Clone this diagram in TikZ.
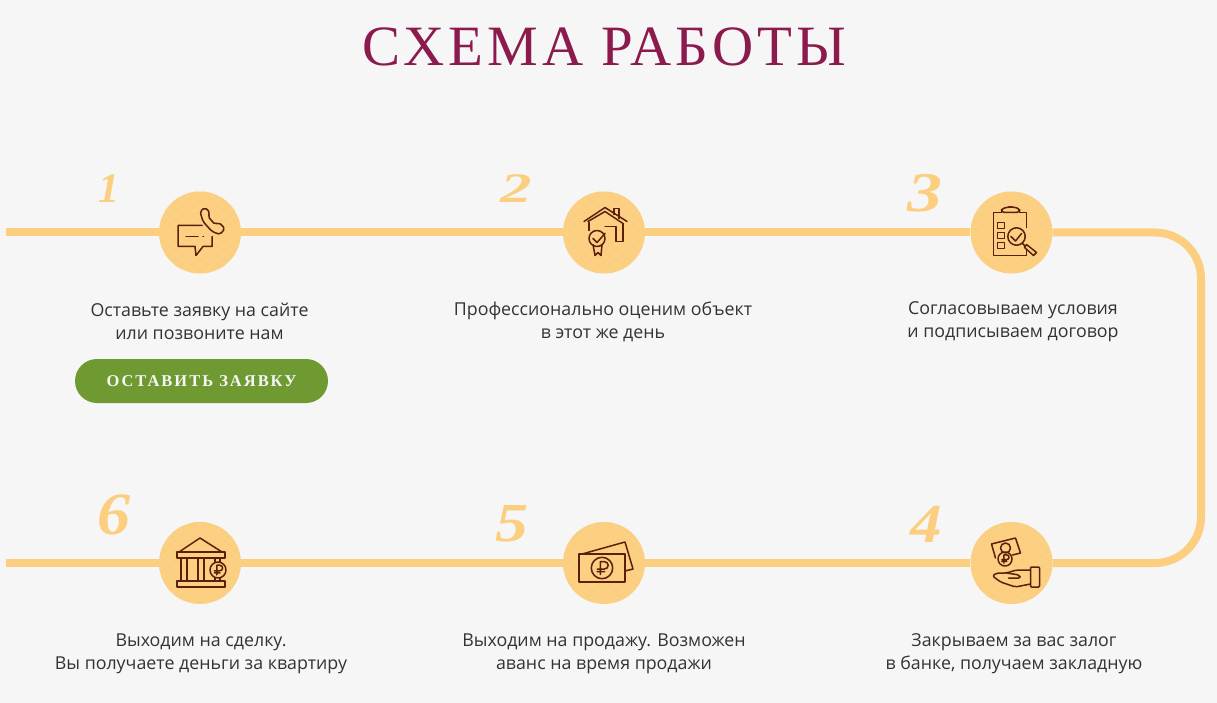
\documentclass[tikz,border=0pt]{standalone}
\usepackage{fontspec}
\setmainfont{Open Sans}
\newfontfamily\titlefont[LetterSpace=7.2]{Liberation Serif}
\newfontfamily\buttonfont[LetterSpace=12]{Liberation Serif}
\newfontfamily\numeralfont[BoldItalicFont=Liberation Serif Bold Italic]{Liberation Serif}
\usetikzlibrary{positioning}
\definecolor{pagegrey}{HTML}{F6F6F6}
\definecolor{trackyellow}{HTML}{FBCF7F}
\definecolor{scallopyellow}{HTML}{FCD38A}
\definecolor{titlewine}{HTML}{8B1A4D}
\definecolor{buttongreen}{HTML}{6F9A32}
\definecolor{iconbrown}{HTML}{5E1E0C}
\definecolor{textgrey}{HTML}{333333}
\tikzset{
  stepdot/.style={circle,fill=trackyellow,minimum size=82pt,inner sep=0pt},
  track/.style={draw=trackyellow,line width=8pt,rounded corners=46pt},
  caption/.style={align=center,text=textgrey,inner sep=0pt,font=\fontsize{17.8}{23}\selectfont},
  numeral/.style={text=trackyellow,inner sep=0pt,font=\numeralfont\bfseries\itshape\fontsize{#1}{#1}\selectfont},
  icon/.style={draw=iconbrown,line width=1.5pt,line join=round,line cap=round},
  scallop/.style={draw=scallopyellow,line width=0.7pt},
}
% ruble sign in a ring, centre and ring radius
\newcommand{\rublering}[3]{
  \draw[icon] (#1,#2) circle (#3);
  \draw[icon,shift={(#1,#2)},scale=#3/10] (-1.5,6) -- (-1.5,-6) -- (2,-6) .. controls (7,-6) and (7,1) .. (2,1) -- (-4.5,1) (-4.5,3.5) -- (2.5,3.5);
}
% wave pattern inside a step circle
\newcommand{\scallops}[1]{
  \begin{scope}[shift={(#1)}]
    \clip (0,0) circle (41);
    \foreach \row in {-9,...,9}{
      \foreach \col in {-4,...,4}{
        \draw[scallop] ({\col*12+mod(\row+100,2)*6-6},{\row*5}) arc (180:360:6);
      }
    }
  \end{scope}
}
\begin{document}
\begin{tikzpicture}[x=1pt,y=-1pt]
  \useasboundingbox[fill=pagegrey] (0,0) rectangle (1217,703);

  \node[text=titlewine,font=\titlefont\fontsize{57}{57}\selectfont] (title) at (604.5,47) {СХЕМА РАБОТЫ};

  % steps
  \node[stepdot] (stepone) at (200,232.5) {};
  \node[stepdot] (steptwo) at (604,232.5) {};
  \node[stepdot] (stepthree) at (1011.5,232.5) {};
  \node[stepdot] (stepfour) at (1011.5,563) {};
  \node[stepdot] (stepfive) at (604,563) {};
  \node[stepdot] (stepsix) at (200,563) {};
  \scallops{stepone}
  \scallops{steptwo}
  \scallops{stepthree}
  \scallops{stepfour}
  \scallops{stepfive}
  \scallops{stepsix}

  % track
  \coordinate (trackstart) at (6,232.5);
  \coordinate (trackend) at (6,563);
  \coordinate (cornertop) at (1201,232.5);
  \coordinate (cornerbottom) at (1201,563);
  \draw[track] (trackstart) -- (stepone);
  \draw[track] (stepone) -- (steptwo);
  \draw[track] (steptwo) -- (stepthree);
  \draw[track] (stepthree) -- (cornertop) -- (cornerbottom) -- (stepfour);
  \draw[track] (stepfour) -- (stepfive);
  \draw[track] (stepfive) -- (stepsix);
  \draw[track] (stepsix) -- (trackend);

  % numbers
  \node[numeral=42] (numone) at (109,189) {1};
  \node[numeral=42,xscale=1.5] (numtwo) at (516,189) {2};
  \node[numeral=56,xscale=1.25] (numthree) at (925,193) {3};
  \node[numeral=55,xscale=1.15] (numfour) at (926,524) {4};
  \node[numeral=55,xscale=1.2] (numfive) at (512,524) {5};
  \node[numeral=60,xscale=1.1] (numsix) at (114,515) {6};

  % captions
  \node[caption] (textone) at (199.5,321.5) {Оставьте заявку на сайте\\или позвоните нам};
  \node[caption] (texttwo) at (603,321.5) {Профессионально оценим объект\\в этот же день};
  \node[caption] (textthree) at (1013,321.5) {Согласовываем условия\\ и подписываем договор};
  \node[caption] (textfour) at (1014,653.5) {Закрываем за вас залог\\в банке, получаем закладную};
  \node[caption] (textfive) at (604,653.5) {Выходим на продажу. Возможен\\аванс на время продажи};
  \node[caption] (textsix) at (201,653.5) {Выходим на сделку.\\Вы получаете деньги за квартиру};

  \node[fill=buttongreen,rounded corners=22pt,minimum width=253pt,minimum height=44pt,inner sep=0pt,
    text=pagegrey,font=\buttonfont\bfseries\fontsize{16.5}{16.5}\selectfont] (button) at (201.5,381) {ОСТАВИТЬ ЗАЯВКУ};

  % phone and speech bubble
  \begin{scope}[shift={(stepone)}]
    \draw[icon] (2,-7) -- (-22,-7) -- (-22,14) -- (-5,14) -- (-4,23) -- (3,14) -- (12,14) -- (12,4);
    \draw[icon] (-14,4) -- (-2,4) (3,4) -- (3.5,4);
    \draw[icon,rounded corners=2pt] (0,-21) -- (5,-25) -- (10,-20) -- (8,-16) -- (15,-8) -- (19,-10) -- (25,-4) -- (20,2) -- (12,-1) -- (3,-11) -- cycle;
  \end{scope}

  % house with medal
  \begin{scope}[shift={(steptwo)}]
    \draw[icon] (-20,-11) -- (1,-25) -- (23,-11) (-16,-11) -- (1,-21) -- (19,-9);
    \draw[icon] (10,-18) -- (10,-24) -- (15,-24) -- (15,-14);
    \draw[icon] (-15,-10) -- (-15,-2) (19,-9) -- (19,9) -- (12,9) -- (12,-6) -- (1,-6);
    \draw[icon] (-7,6) circle (8);
    \draw[icon] (-11,12) -- (-9,23) -- (-6,20) -- (-3,23) -- (-2,12);
    \draw[icon] (-11,6) -- (-7,10) -- (1,1);
  \end{scope}

  % clipboard with magnifier
  \begin{scope}[shift={(stepthree)}]
    \draw[icon] (-10,-20) -- (-18,-20) -- (-18,23) -- (15,23) -- (15,18) (15,-5) -- (15,-20) -- (8,-20);
    \draw[icon,rounded corners=3pt] (-10,-20) -- (-10,-24) -- (-4,-25) -- (-1,-26) -- (3,-25) -- (8,-24) -- (8,-20) -- cycle;
    \draw[icon] (-14,-10) rectangle (-7,-4) (-14,0) rectangle (-7,6) (-14,10) rectangle (-7,16);
    \draw[icon] (5,4) circle (8.7);
    \draw[icon] (-0.5,4) -- (4,8.5) -- (10,1);
    \draw[icon] (11,11) -- (14,14) (15,12) -- (25,20) -- (22,23) -- (13,15) -- cycle;
  \end{scope}

  % hand with money
  \begin{scope}[shift={(stepfour)}]
    \draw[icon] (-16,-5) -- (-20,-19) -- (4,-25) -- (9,-10) -- (1,-8);
    \draw[icon] (-6,-15) circle (5);
    \rublering{-6.5}{-4}{7}
    \draw[icon,rounded corners=2pt] (19,7) -- (5,7) -- (-5,10) -- (-15,10) -- (-19,13) -- (-11,19) -- (4,24) -- (19,21);
    \draw[icon,rounded corners=2pt] (-5,10) -- (8,12) -- (9,15) -- (-3,15);
    \draw[icon,rounded corners=1pt] (19,4) rectangle (28,24);
  \end{scope}

  % banknotes
  \begin{scope}[shift={(stepfive)}]
    \draw[icon] (-25,-9) rectangle (21,19);
    \draw[icon] (-22,-9) -- (21,-21) -- (29,6) -- (21,8);
    \rublering{-2}{5}{10.7}
  \end{scope}

  % bank
  \begin{scope}[shift={(stepsix)}]
    \draw[icon] (0,-25) -- (22,-11) -- (-21,-11) -- cycle;
    \draw[icon] (-23,-11) rectangle (25,-5);
    \draw[icon] (-19,-5) rectangle (-13,18) (-2,-5) rectangle (4,18);
    \draw[icon] (15,-5) -- (15,-1) (20,-5) -- (20,-1) (15,15) -- (15,18) (20,15) -- (20,18);
    \draw[icon] (-23,18) rectangle (25,24);
    \rublering{18}{7}{8}
  \end{scope}
\end{tikzpicture}
\end{document}
